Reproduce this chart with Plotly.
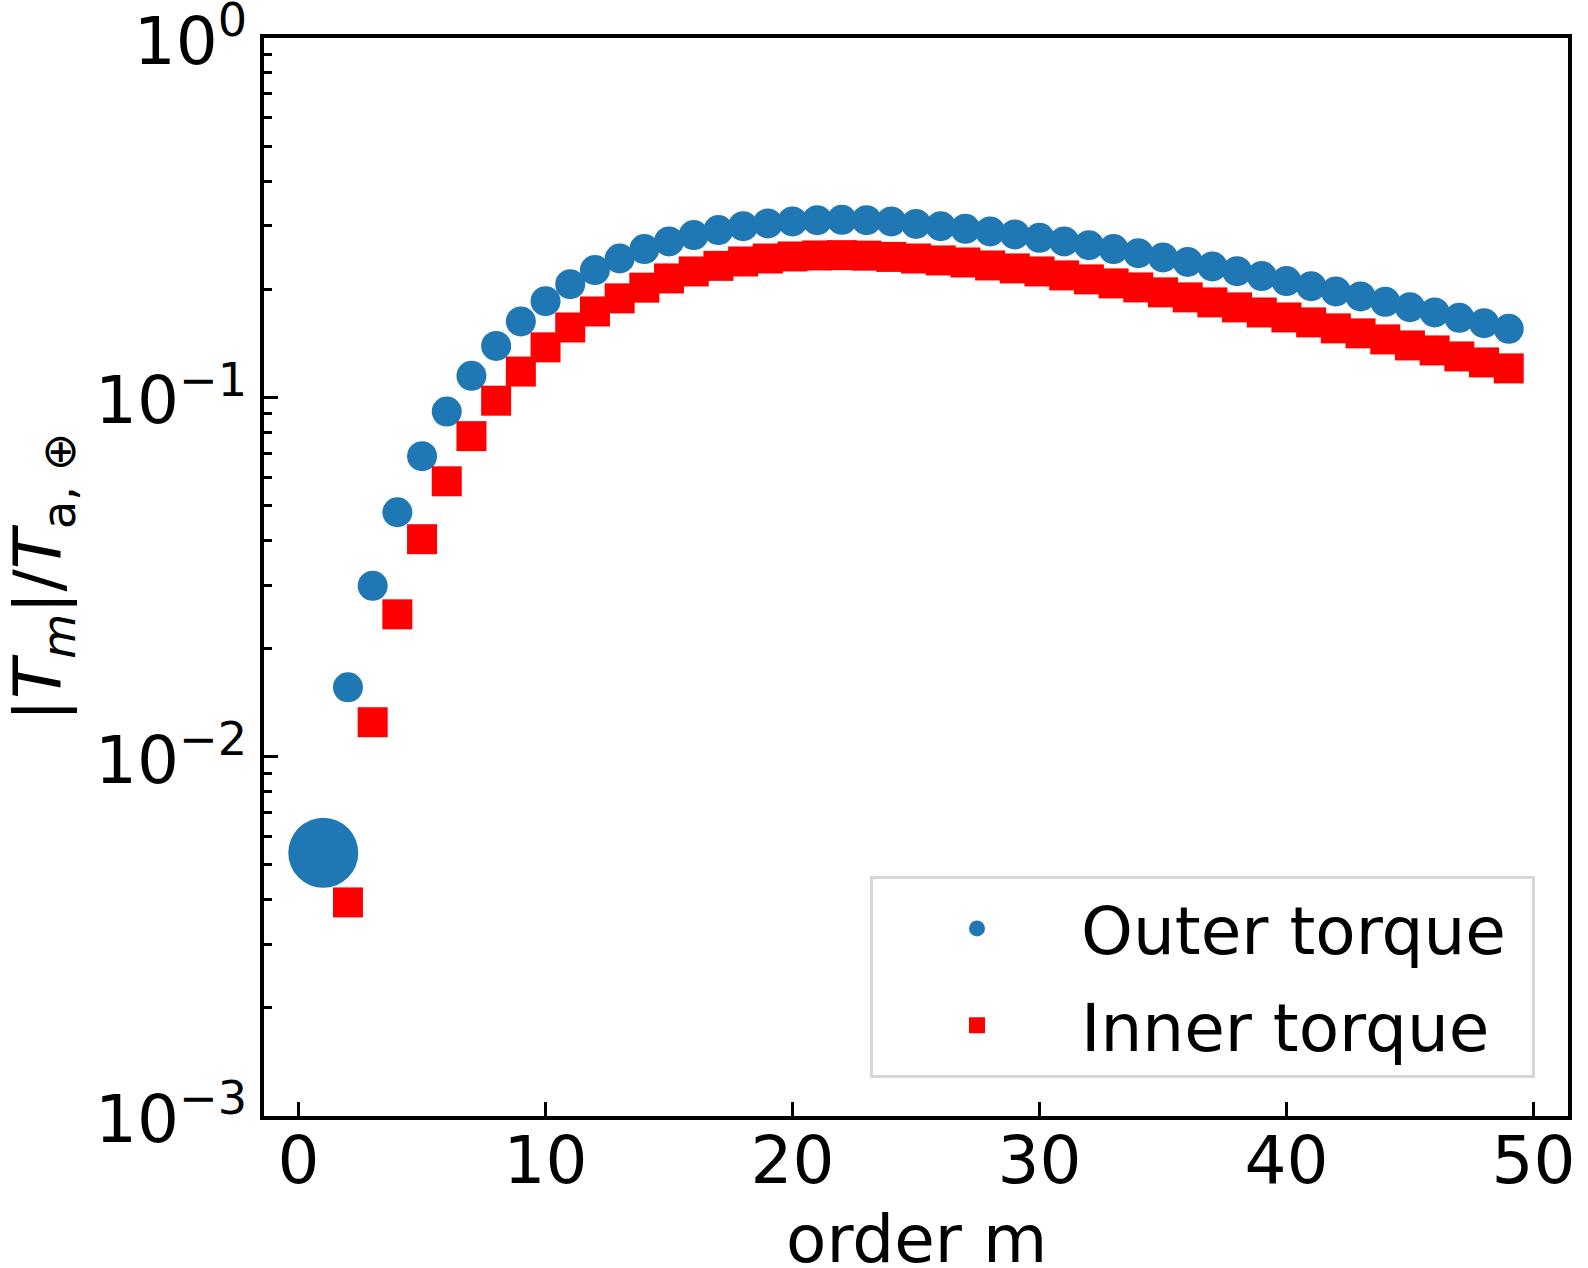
import plotly.graph_objects as go

# ---------------- data ----------------
m_outer = list(range(1, 50))
outer_torque = [0.00540, 0.0156, 0.0299, 0.0479, 0.0686, 0.0913, 0.1148, 0.1391, 0.1627, 0.1853,
                0.2066, 0.2261, 0.2435, 0.2586, 0.2716, 0.2829, 0.2921, 0.2996, 0.3048, 0.3088,
                0.3113, 0.3120, 0.3113, 0.3088, 0.3040, 0.2995, 0.2945, 0.2897, 0.2841, 0.2780,
                0.2716, 0.2653, 0.2586, 0.2520, 0.2451, 0.2383, 0.2314, 0.2245, 0.2176, 0.2107,
                0.2040, 0.1972, 0.1910, 0.1845, 0.1783, 0.1723, 0.1665, 0.1609, 0.1552]

m_inner = list(range(2, 50))
inner_torque = [0.00393, 0.01247, 0.0249, 0.0403, 0.0584, 0.0780, 0.0979, 0.1180, 0.1378,
                0.1565, 0.1734, 0.1886, 0.2020, 0.2143, 0.2241, 0.2323, 0.2389, 0.2435, 0.2467,
                0.2483, 0.2488, 0.2480, 0.2460, 0.2435, 0.2405, 0.2374, 0.2329, 0.2285, 0.2241,
                0.2185, 0.2130, 0.2076, 0.2023, 0.1960, 0.1898, 0.1838, 0.1780, 0.1723, 0.1669,
                0.1617, 0.1556, 0.1507, 0.1450, 0.1395, 0.1351, 0.1300, 0.1251, 0.1204]

series_names = ["Outer torque", "Inner torque"]
x_title = "order m"
y_title = "|<i>T<sub>m</sub></i>|/<i>T</i><sub>a, ⊕</sub>"
x_ticks = [0, 10, 20, 30, 40, 50]
y_ticks = [1e-3, 1e-2, 1e-1, 1e0]
y_tick_text = ["10<sup>−3</sup>", "10<sup>−2</sup>", "10<sup>−1</sup>", "10<sup>0</sup>"]

# ---------------- style ----------------
FONT = "DejaVu Sans"
FS = 66
BLUE = "#1f77b4"
RED = "#ff0000"
outer_sizes = [70 if m == 1 else 30 for m in m_outer]
minor_vals = [k * 10.0 ** e for e in (-3, -2, -1) for k in range(2, 10)]
PAD = "\u00a0"  # right padding inside legend box

fig = go.Figure()
fig.add_trace(go.Scatter(
    x=m_outer, y=outer_torque, mode="markers", name=series_names[0] + PAD,
    legendgroup="a",
    marker=dict(color=BLUE, size=outer_sizes, symbol="circle", opacity=1,
                line=dict(width=0)),
))
fig.add_trace(go.Scatter(
    x=m_inner, y=inner_torque, mode="markers", name=series_names[1] + PAD,
    legendgroup="b",
    marker=dict(color=RED, size=30, symbol="square", opacity=1, line=dict(width=0)),
))

axis_common = dict(
    showline=True, linecolor="black", linewidth=3.5, mirror=True,
    ticks="inside", ticklen=14, tickwidth=3, tickcolor="black",
    showgrid=False, zeroline=False, ticklabeloverflow="allow",
    tickfont=dict(family=FONT, size=FS, color="black"),
)

fig.update_xaxes(
    range=[-1.4, 51.4], tickmode="array", tickvals=x_ticks,
    ticklabelstandoff=-16,
    **axis_common,
)
fig.update_yaxes(
    type="log", range=[-3, 0.0002], tickmode="array", tickvals=y_ticks, ticktext=y_tick_text,
    ticklabelshift=3,
    minor=dict(tickmode="array", tickvals=minor_vals, ticks="inside", ticklen=8,
               tickwidth=2.5, tickcolor="black", showgrid=False),
    title=dict(text=y_title, font=dict(family=FONT, size=FS, color="black"), standoff=29),
    **axis_common,
)

# x-axis title as a paper-anchored annotation so it can sit at the very bottom edge
fig.add_annotation(
    text=x_title, xref="paper", yref="paper", x=0.5, y=-0.115,
    xanchor="center", yanchor="middle", showarrow=False,
    font=dict(family=FONT, size=FS, color="black"),
)

fig.update_layout(
    width=1588, height=1268,
    margin=dict(l=264, r=20, t=38, b=152, autoexpand=False),
    plot_bgcolor="white", paper_bgcolor="white",
    font=dict(family=FONT, size=FS, color="black"),
    legend=dict(
        x=0.9747, y=0.0352, xanchor="right", yanchor="bottom",
        bgcolor="white", bordercolor="#d6d6d6", borderwidth=3,
        font=dict(family=FONT, size=FS, color="black"),
        itemwidth=198, tracegroupgap=8, traceorder="grouped",
    ),
)

fig.write_html("out.html")
